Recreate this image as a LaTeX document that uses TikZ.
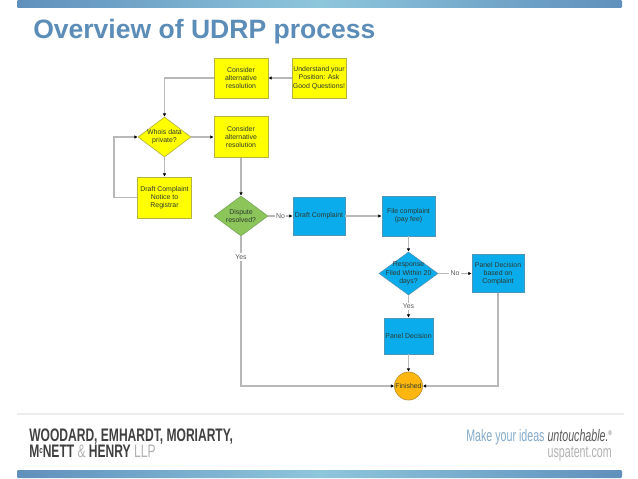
\documentclass[tikz,border=0pt]{standalone}
\usepackage{fontspec}
\setmainfont{Liberation Sans}
\newfontfamily\firmfont[FakeStretch=0.665]{Liberation Sans}
\newfontfamily\tagfont[FakeStretch=0.64]{Liberation Sans}
\usetikzlibrary{arrows.meta,shapes.geometric}
\definecolor{ybox}{HTML}{FFFF00}
\definecolor{yedge}{HTML}{B4B440}
\definecolor{bbox}{HTML}{0AACEC}
\definecolor{bedge}{HTML}{5095B5}
\definecolor{gbox}{HTML}{8CC65A}
\definecolor{gedge}{HTML}{7CA860}
\definecolor{obox}{HTML}{FFB70F}
\definecolor{oedge}{HTML}{B89030}
\definecolor{wire}{HTML}{B8B8B8}
\definecolor{ink}{HTML}{2C3A30}
\definecolor{titleblue}{HTML}{5B8DB8}
\definecolor{bar1}{HTML}{5F90BC}
\definecolor{bar2}{HTML}{8EC6DC}
\tikzset{
  x=0.75pt,y=-0.75pt,
  txt/.style={font=\fontsize{5.2}{6.2}\selectfont,text=ink,align=center,inner sep=0pt},
  rbox/.style n args={4}{rectangle,draw=#3,fill=#4,line width=0.6pt,minimum width=#1*0.75pt,minimum height=#2*0.75pt,inner sep=0pt,txt},
  yellowbox/.style 2 args={rbox={#1}{#2}{yedge}{ybox}},
  bluebox/.style 2 args={rbox={#1}{#2}{bedge}{bbox}},
  dia/.style n args={5}{diamond,draw=#3,fill=#4,line width=0.5pt,minimum width=#1*0.75pt,minimum height=#2*0.75pt,shape aspect=#5,inner sep=0pt},
  inside/.style={label={[txt]center:#1}},
  link/.style={draw=wire,line width=0.8pt,-{Latex[length=2.4pt,width=2.6pt,black]}},
  plain/.style={draw=wire,line width=0.8pt},
  wlabel/.style={txt,fill=white,inner xsep=1pt,inner ysep=1pt,text=black!65},
  bar/.style={left color=bar1,right color=bar1,middle color=bar2,draw=none,rounded corners=0.8pt},
}
\begin{document}
\begin{tikzpicture}
\useasboundingbox (0,0) rectangle (638,478);
\fill[white] (0,0) rectangle (638,478);
\path[bar] (17,0) rectangle (622,8);
\path[bar] (17,470) rectangle (622,478);
\node[anchor=base west,inner sep=0pt,text=titleblue,font=\fontsize{19.9}{24}\selectfont\bfseries] (title) at (33,38.5) {Overview of UDRP process};

\node[yellowbox={54}{40}] (alt1) at (241,78) {Consider\\alternative\\resolution};
\node[yellowbox={54}{40}] (pos) at (319,78) {Understand your\\Position: Ask\\Good Questions!};
\node[yellowbox={54}{41}] (alt2) at (241,137) {Consider\\alternative\\resolution};
\node[dia={53}{40}{yedge}{ybox}{1.325},inside={Whois data\\private?}] (whois) at (164.5,137) {};
\node[yellowbox={54}{41}] (notice) at (164.5,197.5) {Draft Complaint\\Notice to\\Registrar};
\node[dia={54}{40}{gedge}{gbox}{1.35},inside={Dispute\\resolved?}] (disp) at (241,216) {};
\node[bluebox={52}{38}] (draft) at (319,216) {Draft Complaint};
\node[bluebox={53}{40}] (file) at (408.5,216) {File complaint\\(pay fee)};
\node[dia={59}{43}{bedge}{bbox}{1.372},inside={Response\\Filed Within 20\\days?}] (resp) at (408.5,273.5) {};
\node[bluebox={52}{38.5}] (pbased) at (498,273.5) {Panel Decision\\based on\\Complaint};
\node[bluebox={49}{36}] (panel) at (408.5,336) {Panel Decision};
\node[circle,draw=oedge,fill=obox,line width=0.5pt,minimum size=28*0.75pt,inner sep=0pt,txt] (fin) at (408.5,386) {Finished};

\path[link] (pos.west) -- (alt1.east);
\path[link] (alt1.west) -| (whois.north);
\path[link] (whois.east) -- (alt2.west);
\path[link] (whois.south) -- (notice.north);
\coordinate (loop) at (114,197.5);
\path[plain] (notice.west) -- (loop);
\path[link] (loop) |- (whois.west);
\path[link] (alt2.south) -- (disp.north);
\path[link] (disp.east) -- node[wlabel] (lno1) {No} (draft.west);
\path[link] (draft.east) -- (file.west);
\path[link] (file.south) -- (resp.north);
\path[link] (resp.east) -- node[wlabel] (lno2) {No} (pbased.west);
\path[link] (resp.south) -- node[wlabel] (lyes2) {Yes} (panel.north);
\path[link] (panel.south) -- (fin.north);
\path[link] (disp.south) |- (fin.west);
\node[wlabel] (lyes1) at (241,257) {Yes};
\path[link] (pbased.south) |- (fin.east);

\coordinate (ruleL) at (17,414);
\coordinate (ruleR) at (624,414);
\draw[black!7,line width=0.8pt] (ruleL) -- (ruleR);
\node[anchor=base west,inner sep=0pt,text=black!75,font=\fontsize{13.6}{14}\selectfont\firmfont\bfseries] (firm1) at (29,441) {WOODARD, EMHARDT, MORIARTY,};
\node[anchor=base west,inner sep=0pt,text=black!75,font=\fontsize{13.6}{14}\selectfont\firmfont\bfseries] (firm2) at (29,457.5) {M\raisebox{3pt}{\fontsize{7}{8}\selectfont c}NETT {\mdseries\color{black!30}\&} HENRY {\mdseries\color{black!30}LLP}};
\node[anchor=base east,inner sep=0pt,text=titleblue!75,font=\fontsize{12.5}{13}\selectfont\tagfont] (tag) at (612,441) {Make your ideas {\color{black!65}\itshape untouchable.}\raisebox{4pt}{\fontsize{5}{6}\selectfont\color{black!65}®}};
\node[anchor=base east,inner sep=0pt,text=black!30,font=\fontsize{12.5}{13}\selectfont\tagfont] (url) at (612,457) {uspatent.com};
\end{tikzpicture}
\end{document}
